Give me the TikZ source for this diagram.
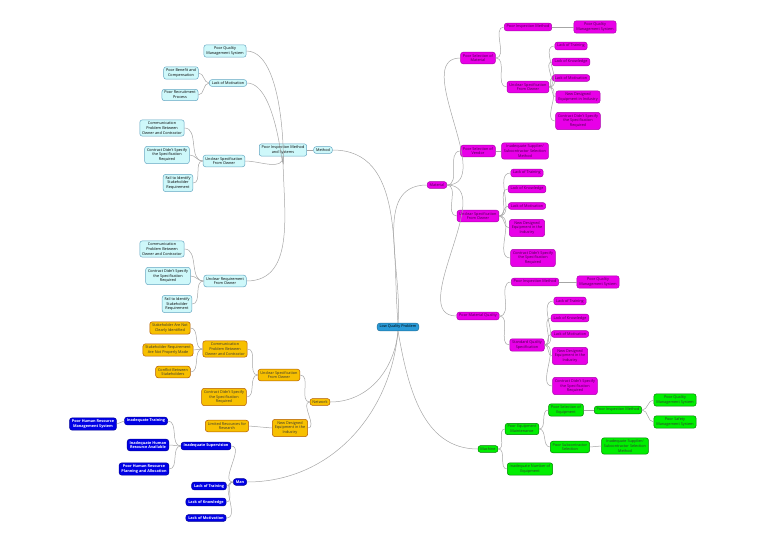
\documentclass[tikz,border=0pt]{standalone}
\usepackage{fontspec}
\setmainfont{Open Sans}
\definecolor{mgc}{RGB}{232,0,232}
\definecolor{mgd}{RGB}{170,0,170}
\definecolor{rtc}{RGB}{42,155,216}
\definecolor{cyc}{RGB}{206,248,250}
\definecolor{yec}{RGB}{247,192,0}
\definecolor{grc}{RGB}{0,238,0}
\begin{document}
\begin{tikzpicture}[x=1pt,y=-1pt,
 base/.style={rounded corners=2.5pt,align=center,font=\fontsize{3.8}{4.8}\selectfont,inner xsep=2.4pt,inner ysep=1.9pt,line width=0.5pt},
 cy/.style={base,fill=cyc,draw=cyan!50!gray},
 mg/.style={base,fill=mgc,draw=mgd,text=black!70!mgc},
 ye/.style={base,fill=yec,draw=orange!70!black,text=black!80},
 bl/.style={base,fill=blue!90!black,draw=blue!60!black,text=white,font=\fontsize{3.8}{4.8}\selectfont\bfseries},
 gr/.style={base,fill=grc,draw=green!50!black,text=black!80},
 root/.style={base,fill=rtc,draw=rtc!70!black,text=black},
 ed/.style={draw=gray!70,line width=0.5pt},
]
\useasboundingbox (0,0) rectangle (768,543);
% center
\node[root] (lq) at (398,327) {Low Quality Problem};
% ---------- cyan (Method)
\node[cy] (me) at (323,150) {Method};
\node[cy] (pim) at (283,150) {Poor Inspection Method\\and Systems};
\node[cy] (pqm) at (225,51) {Poor Quality\\Management System};
\node[cy] (lom) at (228,83) {Lack of Motivation};
\node[cy] (pbc) at (181,73) {Poor Benefit and\\Compensation};
\node[cy] (prp) at (180,95) {Poor Recruitment\\Process};
\node[cy] (uso) at (224,161) {Unclear Specification\\From Owner};
\node[cy] (cp1) at (162,128) {Communication\\Problem Between\\Owner and Contractor};
\node[cy] (cd1) at (167,155) {Contract Didn't Specify\\the Specification\\Required};
\node[cy] (fi1) at (178,183) {Fail to Identify\\Stakeholder\\Requirement};
\node[cy] (uro) at (225,281) {Unclear Requirement\\From Owner};
\node[cy] (cp2) at (162,249) {Communication\\Problem Between\\Owner and Contractor};
\node[cy] (cd2) at (168,276) {Contract Didn't Specify\\the Specification\\Required};
\node[cy] (fi2) at (177,304) {Fail to Identify\\Stakeholder\\Requirement};
% ---------- yellow (Network)
\node[ye] (nw) at (320,402) {Network};
\node[ye] (yus) at (279,375) {Unclear Specification\\From Owner};
\node[ye] (ycp) at (225,349) {Communication\\Problem Between\\Owner and Contractor};
\node[ye] (ysn) at (170,328) {Stakeholder Are Not\\Clearly Identified};
\node[ye] (ysr) at (168,350) {Stakeholder Requirement\\Are Not Properly Made};
\node[ye] (ycf) at (173,372) {Conflict Between\\Stakeholders};
\node[ye] (ycd) at (224,397) {Contract Didn't Specify\\the Specification\\Required};
\node[ye] (ynd) at (290,428) {New Designed\\Equipment in the\\Industry};
\node[ye] (ylr) at (227,426) {Limited Resources for\\Research};
% ---------- blue (Man)
\node[bl] (man) at (240,482) {Man};
\node[bl] (isv) at (206,446) {Inadequate Supervision};
\node[bl] (itr) at (146,421) {Inadequate Training};
\node[bl] (phm) at (93,424) {Poor Human Resource\\Management System};
\node[bl] (iha) at (148,445) {Inadequate Human\\Resource Available};
\node[bl] (php) at (144,469) {Poor Human Resource\\Planning and Allocation};
\node[bl] (blt) at (209,486) {Lack of Training};
\node[bl] (blk) at (206,502) {Lack of Knowledge};
\node[bl] (blm) at (206,518) {Lack of Motivation};
% ---------- magenta (Material)
\node[mg] (mat) at (437,185) {Material};
\node[mg] (psm) at (478,58) {Poor Selection of\\Material};
\node[mg] (m1pi) at (528,27) {Poor Inspection Method};
\node[mg] (m1pq) at (595,27) {Poor Quality\\Management System};
\node[mg] (m1us) at (528,87) {Unclear Specification\\From Owner};
\node[mg] (m1a) at (571,46) {Lack of Training};
\node[mg] (m1b) at (571,62) {Lack of Knowledge};
\node[mg] (m1c) at (571,78) {Lack of Motivation};
\node[mg] (m1d) at (578,97) {New Designed\\Equipment in Industry};
\node[mg] (m1e) at (578,121) {Contract Didn't Specify\\the Specification\\Required};
\node[mg] (psv) at (478,151) {Poor Selection of\\Vendor};
\node[mg] (isu) at (525,151) {Inadequate Supplier/\\Subcontractor Selection\\Method};
\node[mg] (m2us) at (478,216) {Unclear Specification\\From Owner};
\node[mg] (m2a) at (527,173) {Lack of Training};
\node[mg] (m2b) at (527,189) {Lack of Knowledge};
\node[mg] (m2c) at (527,206) {Lack of Motivation};
\node[mg] (m2d) at (527,228) {New Designed\\Equipment in the\\Industry};
\node[mg] (m2e) at (533,258) {Contract Didn't Specify\\the Specification\\Required};
\node[mg] (pmq) at (478,316) {Poor Material Quality};
\node[mg] (m3pi) at (535,282) {Poor Inspection Method};
\node[mg] (m3pq) at (598,282) {Poor Quality\\Management System};
\node[mg] (m3sq) at (527,345) {Standard Quality\\Specification};
\node[mg] (m3a) at (570,301) {Lack of Training};
\node[mg] (m3b) at (570,318) {Lack of Knowledge};
\node[mg] (m3c) at (570,334) {Lack of Motivation};
\node[mg] (m3d) at (570,356) {New Designed\\Equipment in the\\Industry};
\node[mg] (m3e) at (575,386) {Contract Didn't Specify\\the Specification\\Required};
% ---------- green (Machine)
\node[gr] (mac) at (488,449) {Machine};
\node[gr] (pem) at (522,429) {Poor Equipment\\Maintenance};
\node[gr] (pse) at (566,410) {Poor Selection of\\Equipment};
\node[gr] (gpi) at (618,410) {Poor Inspection Method};
\node[gr] (gpq) at (675,400) {Poor Quality\\Management System};
\node[gr] (gps) at (675,422) {Poor Safety\\Management System};
\node[gr] (pss) at (570,447) {Poor Subcontractor\\Selection};
\node[gr] (gis) at (625,446) {Inadequate Supplier/\\Subcontractor Selection\\Method};
\node[gr] (ine) at (530,469) {Inadequate Number of\\Equipment};
% ---------- edges
\begin{scope}[ed]
\draw (lq.north) to[out=95,in=0] (me.east);
\draw (lq.north) to[out=85,in=180] (mat.west);
\draw (lq.south) to[out=-95,in=0] (nw.east);
\draw (lq.south) to[out=-95,in=0] (man.east);
\draw (lq.south) to[out=-80,in=180] (mac.west);
\draw (me.west) -- (pim.east);
\foreach \c in {pqm,lom,uso,uro} \draw (pim.south) to[out=-90,in=0] (\c.east);
\foreach \c in {pbc,prp} \draw (lom.west) to[out=180,in=0] (\c.east);
\foreach \c in {cp1,cd1,fi1} \draw (uso.west) to[out=180,in=0] (\c.east);
\foreach \c in {cp2,cd2,fi2} \draw (uro.west) to[out=180,in=0] (\c.east);
\foreach \c in {yus,ynd} \draw (nw.west) to[out=180,in=0] (\c.east);
\foreach \c in {ycp,ycd} \draw (yus.west) to[out=180,in=0] (\c.east);
\foreach \c in {ysn,ysr,ycf} \draw (ycp.west) to[out=180,in=0] (\c.east);
\draw (ynd.west) -- (ylr.east);
\foreach \c in {isv,blt,blk,blm} \draw (man.west) to[out=180,in=0] (\c.east);
\foreach \c in {itr,iha,php} \draw (isv.west) to[out=180,in=0] (\c.east);
\draw (itr.west) -- (phm.east);
\foreach \c in {psm,psv,m2us,pmq} \draw (mat.east) to[out=0,in=180] (\c.west);
\foreach \c in {m1pi,m1us} \draw (psm.east) to[out=0,in=180] (\c.west);
\draw (m1pi.east) -- (m1pq.west);
\foreach \c in {m1a,m1b,m1c,m1d,m1e} \draw (m1us.east) to[out=0,in=180] (\c.west);
\draw (psv.east) -- (isu.west);
\foreach \c in {m2a,m2b,m2c,m2d,m2e} \draw (m2us.east) to[out=0,in=180] (\c.west);
\foreach \c in {m3pi,m3sq} \draw (pmq.east) to[out=0,in=180] (\c.west);
\draw (m3pi.east) -- (m3pq.west);
\foreach \c in {m3a,m3b,m3c,m3d,m3e} \draw (m3sq.east) to[out=0,in=180] (\c.west);
\foreach \c in {pem,ine} \draw (mac.east) to[out=0,in=180] (\c.west);
\foreach \c in {pse,pss} \draw (pem.east) to[out=0,in=180] (\c.west);
\draw (pse.east) -- (gpi.west);
\foreach \c in {gpq,gps} \draw (gpi.east) to[out=0,in=180] (\c.west);
\draw (pss.east) -- (gis.west);
\end{scope}
\end{tikzpicture}
\end{document}
